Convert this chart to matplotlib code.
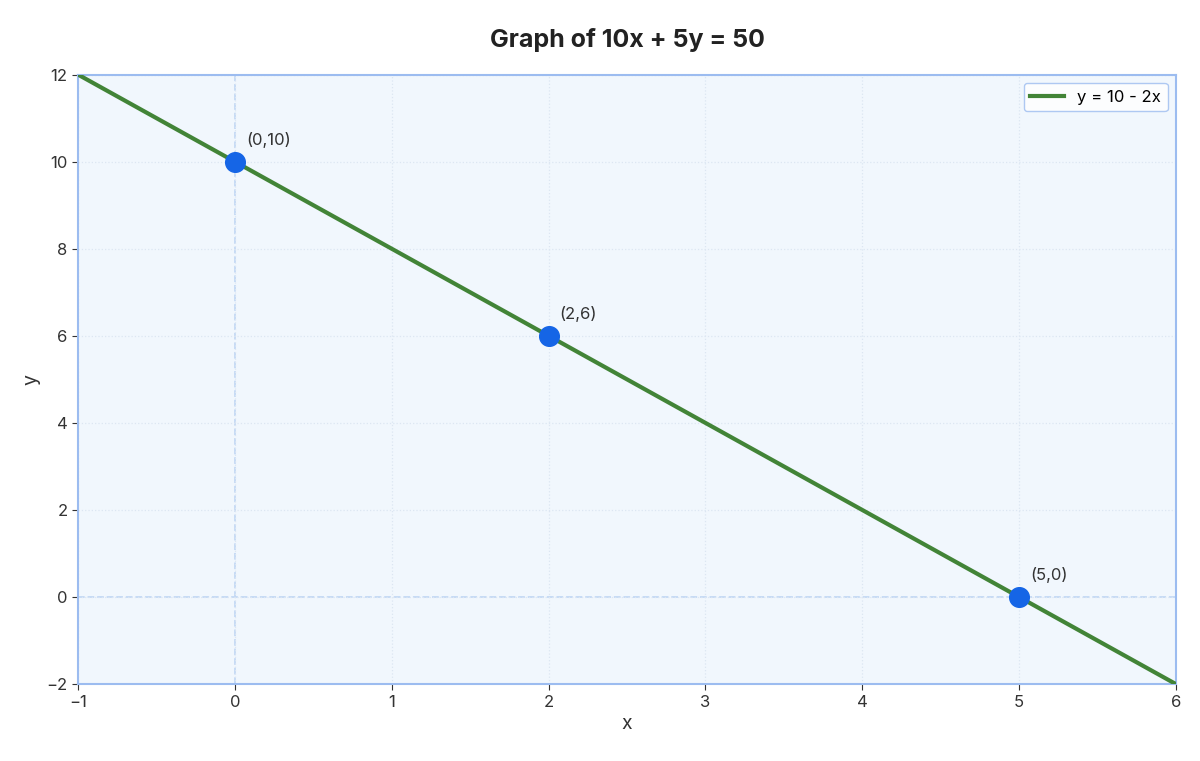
import numpy as np
import matplotlib.pyplot as plt

plt.rcParams['font.family'] = ['Inter', 'DejaVu Sans']

# line y = 10 - 2x endpoints over the plot range
line_x = [-1, 6]
line_y = [12, -2]

# labelled points
pt_x = [0, 2, 5]
pt_y = [10, 6, 0]
pt_labels = ['(0,10)', '(2,6)', '(5,0)']

fig = plt.figure(figsize=(12, 7.61), dpi=100)
ax = fig.add_axes([0.065, 0.101, 0.915, 0.801])
ax.set_facecolor('#f1f7fd')

ax.plot(line_x, line_y, color='#428437', linewidth=3, label='y = 10 - 2x', zorder=3)
ax.scatter(pt_x, pt_y, s=200, color='#1565e6', zorder=4)
for x, y, lab in zip(pt_x, pt_y, pt_labels):
    ax.annotate(lab, (x, y), xytext=(8, 12), textcoords='offset points',
                fontsize=12, color='#333333')

ax.axhline(0, color='#c3d8f5', linestyle='--', linewidth=1.3, zorder=1)
ax.axvline(0, color='#c3d8f5', linestyle='--', linewidth=1.3, zorder=1)

ax.set_xlim(-1, 6)
ax.set_ylim(-2, 12)
ax.set_xticks(range(-1, 7))
ax.set_yticks(range(-2, 13, 2))
ax.grid(True, linestyle=':', color='#dce6f2', linewidth=0.9, zorder=0)
ax.tick_params(labelsize=12, colors='#333333', length=4)
for s in ax.spines.values():
    s.set_color('#9cbcf0')
    s.set_linewidth(1.5)

ax.set_xlabel('x', fontsize=14, color='#333333')
ax.set_ylabel('y', fontsize=14, color='#333333')
ax.set_title('Graph of 10x + 5y = 50', fontsize=18, fontweight='bold',
             color='#222222', pad=20)

leg = ax.legend(loc='upper right', fontsize=12, frameon=True, fancybox=True)
leg.get_frame().set_edgecolor('#9cbcf0')
leg.get_frame().set_facecolor('white')

fig.savefig('out.png', dpi=100)
